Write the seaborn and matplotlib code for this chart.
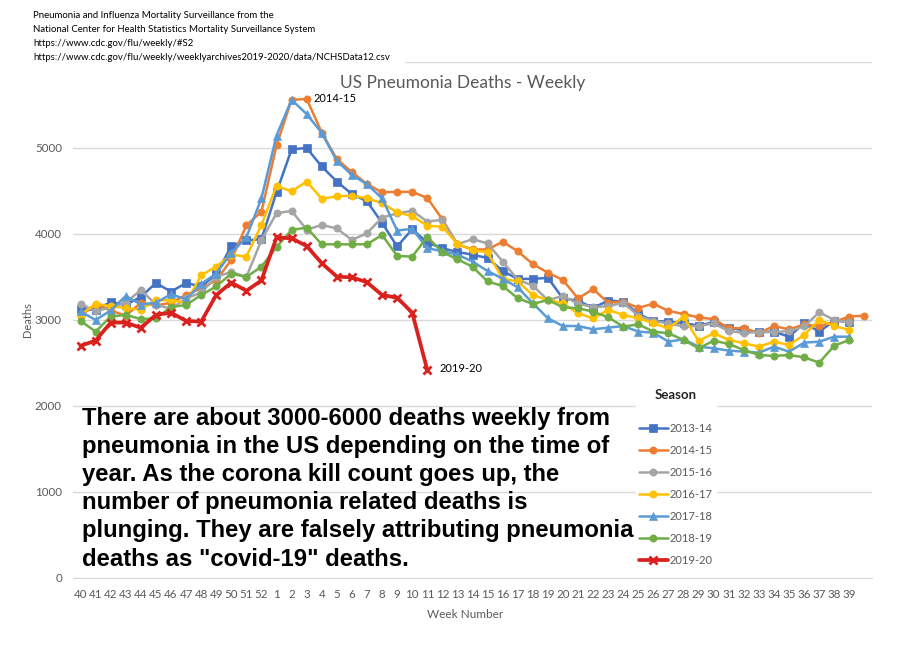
import numpy as np
import pandas as pd
import matplotlib
matplotlib.use("Agg")
import matplotlib.pyplot as plt
from matplotlib.patches import Rectangle
import seaborn as sns

# week labels: MMWR week 40 of one year to week 39 of the next
week_labels = [str(w) for w in range(40, 53)] + [str(w) for w in range(1, 40)]

seasons = ['2013-14', '2014-15', '2015-16', '2016-17', '2017-18', '2018-19', '2019-20']

deaths_1314 = [3130, 3115, 3210, 3175, 3270, 3430, 3330, 3430, 3390, 3530, 3860, 3925, 3940,
               4485, 4985, 5000, 4785, 4610, 4465, 4380, 4130, 3855, 4055, 3900, 3835, 3790,
               3760, 3720, 3570, 3478, 3478, 3490, 3250, 3225, 3140, 3225, 3215, 3070, 2990,
               2980, 2965, 2935, 2975, 2910, 2880, 2860, 2865, 2805, 2965, 2865, 2990, 2980]
# 2014-15 had a week 53, so one more point
deaths_1415 = [3050, 3180, 3110, 3050, 3200, 3170, 3200, 3290, 3370, 3460, 3700, 4100, 4260,
               5030, 5560, 5570, 5180, 4870, 4720, 4580, 4485, 4490, 4490, 4420, 4170, 3880,
               3820, 3820, 3910, 3800, 3650, 3550, 3465, 3250, 3360, 3200, 3215, 3140, 3190,
               3105, 3070, 3030, 3010, 2905, 2905, 2850, 2930, 2890, 2950, 2925, 2980, 3040,
               3050]
deaths_1516 = [3190, 3100, 3150, 3200, 3350, 3180, 3130, 3250, 3320, 3500, 3560, 3500, 3930,
               4240, 4270, 4050, 4105, 4065, 3930, 4010, 4190, 4240, 4270, 4145, 4165, 3880,
               3940, 3890, 3680, 3470, 3400, 3230, 3280, 3190, 3150, 3160, 3200, 3050, 2990,
               2960, 2925, 2930, 2960, 2870, 2850, 2860, 2860, 2870, 2925, 3090, 3000, 2975]
deaths_1617 = [3060, 3190, 3160, 3140, 3120, 3230, 3230, 3200, 3520, 3620, 3760, 3737, 4105,
               4560, 4495, 4610, 4410, 4437, 4445, 4415, 4360, 4250, 4210, 4095, 4085, 3885,
               3815, 3785, 3478, 3448, 3290, 3233, 3195, 3078, 3020, 3117, 3060, 3020, 2962,
               2904, 3039, 2756, 2846, 2768, 2730, 2690, 2748, 2710, 2826, 3000, 2930, 2884]
deaths_1718 = [3100, 3000, 3110, 3280, 3180, 3200, 3300, 3240, 3420, 3540, 3780, 3960, 4415,
               5145, 5560, 5395, 5175, 4850, 4687, 4579, 4415, 4040, 4060, 3835, 3800, 3760,
               3680, 3570, 3480, 3380, 3195, 3020, 2930, 2930, 2892, 2911, 2930, 2865, 2853,
               2748, 2776, 2690, 2671, 2644, 2632, 2620, 2690, 2632, 2737, 2748, 2806, 2806]
deaths_1819 = [2990, 2865, 3040, 3060, 3010, 3020, 3150, 3175, 3290, 3390, 3540, 3500, 3620,
               3850, 4047, 4074, 3880, 3880, 3880, 3880, 3989, 3745, 3737, 3965, 3790, 3706,
               3620, 3448, 3396, 3253, 3187, 3233, 3148, 3137, 3097, 3032, 2923, 2950, 2865,
               2846, 2768, 2671, 2760, 2721, 2652, 2593, 2582, 2593, 2566, 2504, 2702, 2768]
# current season, up to week 11
deaths_1920 = [2700, 2760, 2970, 2970, 2910, 3060, 3085, 2990, 2980, 3290, 3435, 3340, 3460,
               3960, 3950, 3860, 3660, 3505, 3495, 3440, 3290, 3260, 3085, 2420]

all_deaths = [deaths_1314, deaths_1415, deaths_1516, deaths_1617, deaths_1718, deaths_1819, deaths_1920]

colors = ['#4472C4', '#ED7D31', '#A5A5A5', '#FFC000', '#5B9BD5', '#70AD47', '#D9211E']
markers = ['s', 'o', 'o', 'o', '^', 'o', 'x']

header_lines = ['Pneumonia and Influenza Mortality Surveillance from the',
                'National Center for Health Statistics Mortality Surveillance System',
                'https://www.cdc.gov/flu/weekly/#S2',
                'https://www.cdc.gov/flu/weekly/weeklyarchives2019-2020/data/NCHSData12.csv']

note_lines = ['There are about 3000-6000 deaths weekly from',
              'pneumonia in the US depending on the time of',
              'year. As the corona kill count goes up, the',
              'number of pneumonia related deaths is',
              'plunging. They are falsely attributing pneumonia',
              'deaths as "covid-19" deaths.']

sns.set_style('white')
plt.rcParams['font.family'] = ['Lato', 'DejaVu Sans']

W, H = 901, 654
fig = plt.figure(figsize=(W / 100, H / 100), dpi=100)
ax = fig.add_axes([73 / W, 76 / H, 799 / W, 516 / H])

for season, vals, col, mk in zip(seasons, all_deaths, colors, markers):
    df = pd.DataFrame({'week': np.arange(len(vals)), 'deaths': vals})
    if season == '2019-20':
        sns.lineplot(data=df, x='week', y='deaths', ax=ax, color=col, linewidth=2.7,
                     marker=mk, markersize=6, markeredgewidth=2, markeredgecolor=col,
                     label=season, sort=False)
    else:
        sns.lineplot(data=df, x='week', y='deaths', ax=ax, color=col, linewidth=1.8,
                     marker=mk, markersize=5.2, markeredgewidth=0.5, markeredgecolor=col,
                     label=season, sort=False)

ax.set_xlim(-0.5, 52.5)
ax.set_ylim(0, 6000)
ax.set_xticks(np.arange(len(week_labels)))
ax.set_xticklabels(week_labels)
ax.set_yticks([0, 1000, 2000, 3000, 4000, 5000, 6000])
ax.set_yticklabels(['0', '1000', '2000', '3000', '4000', '5000', ''])
ax.grid(axis='y', color='#D9D9D9', linewidth=1)
ax.set_axisbelow(True)
for s in ['left', 'right', 'top']:
    ax.spines[s].set_visible(False)
ax.spines['bottom'].set_color('#D9D9D9')
ax.tick_params(axis='both', length=0, labelsize=8.3, labelcolor='#595959')
ax.tick_params(axis='y', pad=8)
ax.tick_params(axis='x', pad=8)
ax.set_xlabel('')
ax.set_ylabel('')

# labels next to the peak and the last point
ax.annotate('2014-15', xy=(15, deaths_1415[15]), xytext=(5, 0), textcoords='offset points',
            fontsize=8, color='black', va='center', ha='left')
ax.annotate('2019-20', xy=(len(deaths_1920) - 1, deaths_1920[-1]), xytext=(9, 1),
            textcoords='offset points', fontsize=8, color='black', va='center', ha='left')

leg = ax.legend(title='Season\n', loc='upper left', bbox_to_anchor=(630 / W, 1 - 380 / H),
                bbox_transform=fig.transFigure, frameon=True, facecolor='white',
                edgecolor='white', framealpha=1, fontsize=8, labelcolor='#595959',
                handlelength=2.6, handletextpad=0.15, labelspacing=1.0, borderpad=0.3)
leg.get_title().set_fontweight('bold')
leg.get_title().set_fontsize(9.5)
leg.get_title().set_linespacing(0.85)
leg.set_zorder(5)

fig.text(463 / W, 1 - 83 / H, 'US Pneumonia Deaths - Weekly', fontsize=12.5, color='#595959',
         ha='center', va='center')
fig.text(28 / W, 1 - 320 / H, 'Deaths', fontsize=8, color='#595959', rotation=90,
         ha='center', va='center')
fig.text(465 / W, 1 - 614 / H, 'Week Number', fontsize=8.5, color='#595959',
         ha='center', va='center')

# pasted header box hides the top of the chart area
fig.add_artist(Rectangle((0, 1 - 66 / H), 405 / W, 66 / H, transform=fig.transFigure,
                         facecolor='white', edgecolor='none', zorder=2))
for i, line in enumerate(header_lines):
    fig.text(33 / W, 1 - (15 + 14 * i) / H, line, fontsize=6.9, color='black',
             ha='left', va='center', zorder=3)

for i, line in enumerate(note_lines):
    fig.text(82 / W, 1 - (418 + 28.2 * i) / H, line, fontsize=17.2, fontweight='bold',
             family=['Liberation Sans', 'DejaVu Sans'], color='black',
             ha='left', va='center', zorder=4)

fig.savefig('out.png', dpi=100)
